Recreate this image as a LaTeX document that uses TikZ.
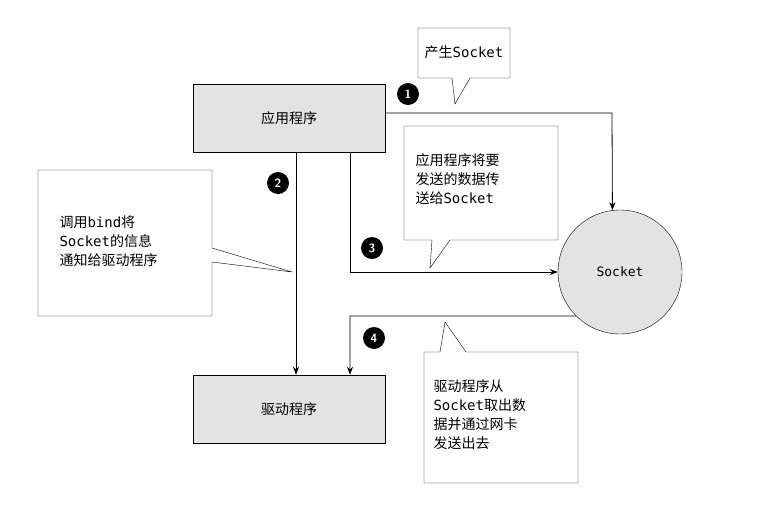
\documentclass[tikz,border=0pt]{standalone}
\usepackage{fontspec}
\newfontfamily\cjk{Noto Sans CJK SC}
\setmonofont{DejaVu Sans Mono}
\usetikzlibrary{arrows.meta}
\begin{document}
\begin{tikzpicture}[x=1pt,y=-1pt,font=\cjk\fontsize{14}{19}\selectfont,
  box/.style={draw,fill=gray!22,minimum width=192pt,minimum height=68pt},
  num/.style={circle,fill=black,text=white,inner sep=0pt,minimum size=22pt,font=\sffamily\bfseries\fontsize{12}{12}\selectfont},
  call/.style={draw,fill=white,line join=miter},
  arr/.style={-{Stealth[length=8pt,width=6pt]},thick}]
\useasboundingbox (0,0) rectangle (758,512);
\node[box] (app) at (289,118) {应用程序};
\node[box] (drv) at (289,409) {驱动程序};
\node[draw,circle,fill=gray!22,minimum size=124pt,font=\ttfamily\fontsize{13}{13}\selectfont] (sock) at (620,272) {Socket};
\node[num] (n1) at (408,94) {1};
\node[num] (n2) at (278,183) {2};
\node[num] (n3) at (372,248) {3};
\node[num] (n4) at (374,338) {4};
% callouts
\draw[call] (418,28) -- (510,28) -- (510,78) -- (470,78) -- (455,104) -- (452,78) -- (418,78) -- cycle;
\node (t1) at (464,52) {产生\texttt{Socket}};
\draw[call] (38,170) -- (212,170) -- (212,248) -- (292,272) -- (212,262) -- (212,316) -- (38,316) -- cycle;
\node[align=left,anchor=west] (t2) at (56,241) {调用\texttt{bind}将\\\texttt{Socket}的信息\\通知给驱动程序};
\draw[call] (404,126) -- (558,126) -- (558,240) -- (450,240) -- (430,268) -- (432,240) -- (404,240) -- cycle;
\node[align=left,anchor=west] (t3) at (412,179) {应用程序将要\\发送的数据传\\送给\texttt{Socket}};
\draw[call] (424,352) -- (440,352) -- (445,322) -- (466,352) -- (578,352) -- (578,483) -- (424,483) -- cycle;
\node[align=left,anchor=west] (t4) at (430,415) {驱动程序从\\\texttt{Socket}取出数\\据并通过网卡\\发送出去};
% arrows
\draw[arr] (app.east |- 0,113) -- (612,113) -- (sock.97);
\draw[arr] (app.south -| 296,0) -- (drv.north -| 296,0);
\draw[arr] (app.south -| 350,0) -- (350,272) -- (sock.west);
\draw[arr] (sock.-135) -- (350,316) -- (drv.north -| 350,0);
\end{tikzpicture}
\end{document}
